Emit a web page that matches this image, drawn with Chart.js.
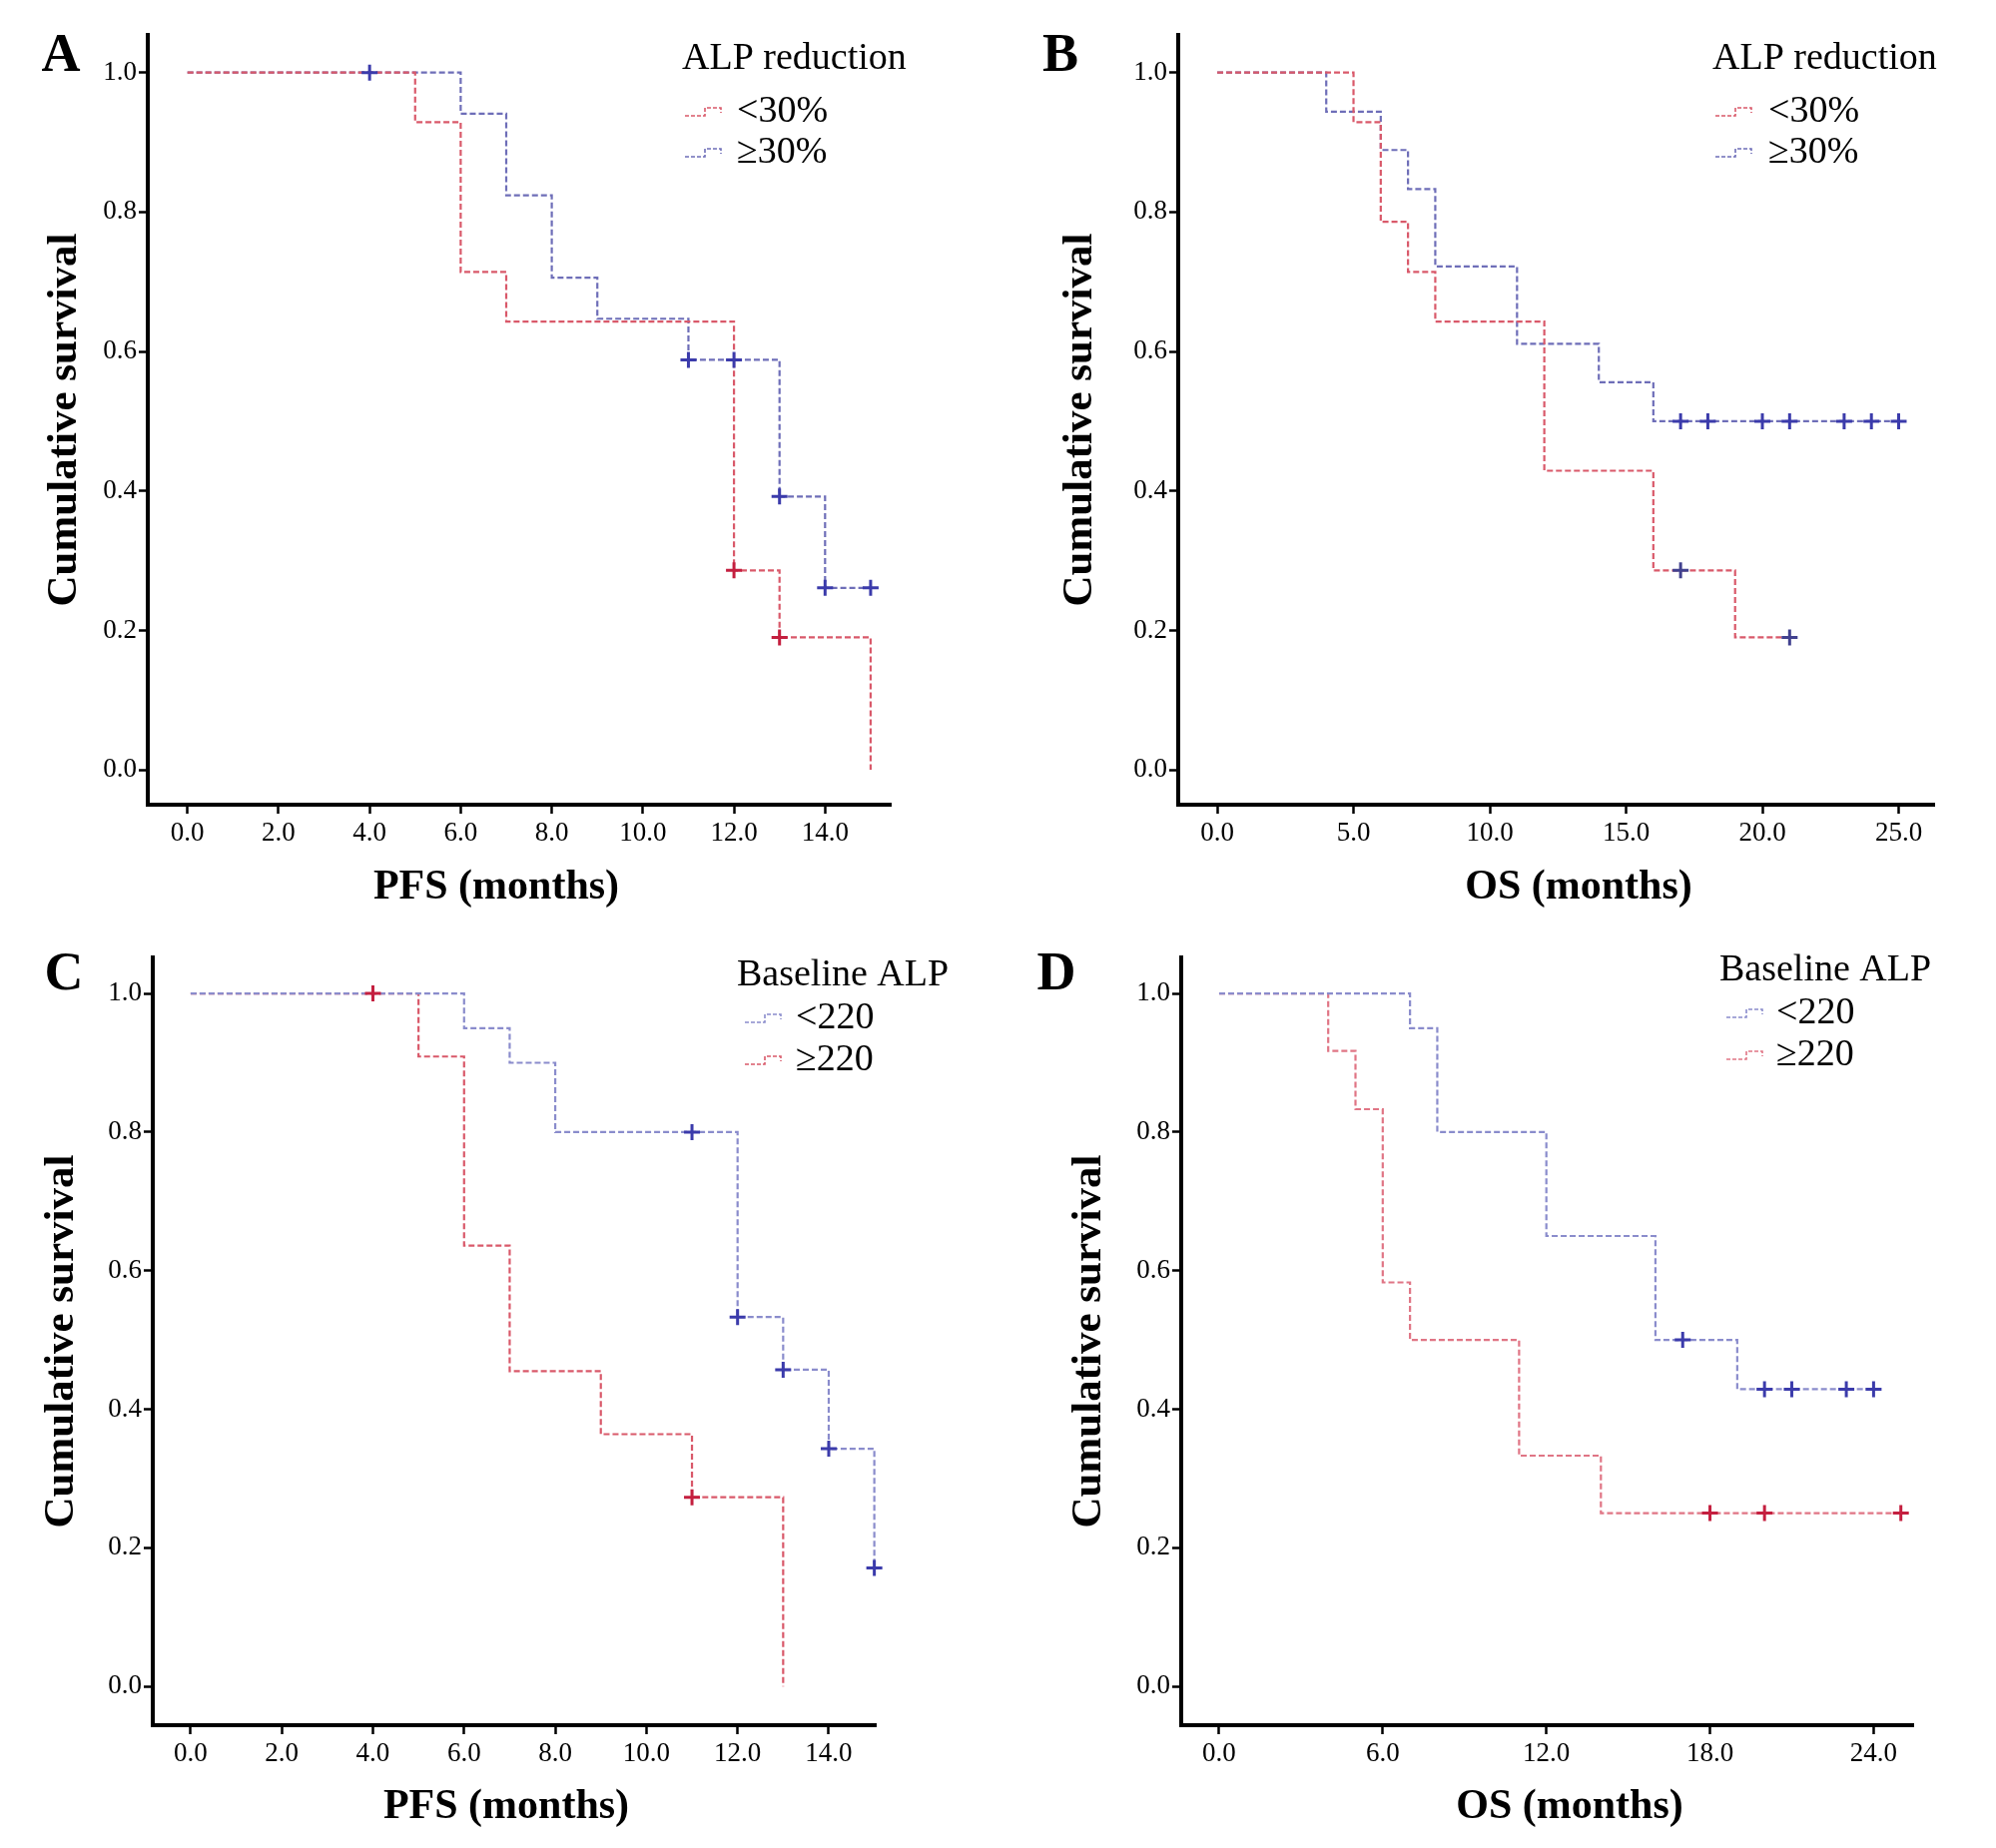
<!DOCTYPE html>
<html>
<head>
<meta charset="utf-8">
<title>Kaplan-Meier curves by ALP</title>
<script src="https://cdn.jsdelivr.net/npm/chart.js@4.4.1/dist/chart.umd.min.js"></script>
<style>
  html, body { margin: 0; padding: 0; background: #fff; }
  #wrap { position: relative; width: 1999px; height: 1851px; }
  canvas { position: absolute; }
</style>
</head>
<body>
<div id="wrap">
  <canvas id="chartA" width="1000" height="920" style="left:0;top:0"></canvas>
  <canvas id="chartB" width="999" height="920" style="left:1000px;top:0"></canvas>
  <canvas id="chartC" width="1000" height="931" style="left:0;top:920px"></canvas>
  <canvas id="chartD" width="999" height="931" style="left:1000px;top:920px"></canvas>
</div>
<script>
// tick labels
const yTicks = [0, 0.2, 0.4, 0.6, 0.8, 1.0];
const pfsTicks = [0, 2, 4, 6, 8, 10, 12, 14];
const osTicksB = [0, 5, 10, 15, 20, 25];
const osTicksD = [0, 6, 12, 18, 24];

// groups
const reductionGroups = ['<30%', '\u226530%'];
const baselineGroups = ['<220', '\u2265220'];

// A - PFS by ALP reduction
const aLowTime = [0, 5, 6, 7, 12, 13, 15];
const aLowSurv = [1, 0.929, 0.714, 0.643, 0.286, 0.190, 0];
const aLowCens = [12, 13];
const aHighTime = [0, 6, 7, 8, 9, 11, 13, 14, 15];
const aHighSurv = [1, 0.941, 0.824, 0.706, 0.647, 0.588, 0.392, 0.261, 0.261];
const aHighCens = [4, 11, 12, 13, 14, 15];

// B - OS by ALP reduction
const bLowTime = [0, 5, 6, 7, 8, 12, 16, 19, 21];
const bLowSurv = [1, 0.929, 0.786, 0.714, 0.643, 0.429, 0.286, 0.190, 0.190];
const bLowCens = [17, 21];
const bHighTime = [0, 4, 6, 7, 8, 11, 14, 16, 25];
const bHighSurv = [1, 0.944, 0.889, 0.833, 0.722, 0.611, 0.556, 0.5, 0.5];
const bHighCens = [17, 18, 20, 21, 23, 24, 25];

// C - PFS by baseline ALP
const cLowTime = [0, 6, 7, 8, 12, 13, 14, 15];
const cLowSurv = [1, 0.95, 0.90, 0.80, 0.533, 0.457, 0.343, 0.171];
const cLowCens = [11, 12, 13, 14, 15];
const cHighTime = [0, 5, 6, 7, 9, 11, 13];
const cHighSurv = [1, 0.909, 0.636, 0.455, 0.364, 0.273, 0];
const cHighCens = [4, 11];

// D - OS by baseline ALP
const dLowTime = [0, 7, 8, 12, 16, 19, 24];
const dLowSurv = [1, 0.95, 0.80, 0.65, 0.50, 0.429, 0.429];
const dLowCens = [17, 20, 21, 23, 24];
const dHighTime = [0, 4, 5, 6, 7, 11, 14, 25];
const dHighSurv = [1, 0.917, 0.833, 0.583, 0.50, 0.333, 0.25, 0.25];
const dHighCens = [18, 20, 25];

const SERIF = "'Liberation Serif', 'Times New Roman', serif";

// value of the step curve at time t
function survAt(times, surv, t) {
  let v = surv[0];
  for (let i = 0; i < times.length; i++) {
    if (times[i] <= t) v = surv[i];
  }
  return v;
}

// panel letter, x title and the little step legend
const kmDecor = {
  id: 'kmDecor',
  afterDraw(chart, args, o) {
    const ctx = chart.ctx;
    ctx.save();
    ctx.fillStyle = '#000';
    ctx.textBaseline = 'middle';
    ctx.textAlign = 'center';
    ctx.font = 'bold 54px ' + SERIF;
    ctx.fillText(o.letter, o.letterAt[0], o.letterAt[1]);
    ctx.font = 'bold 42px ' + SERIF;
    ctx.fillText(o.xTitle, o.xTitleAt[0], o.xTitleAt[1]);

    ctx.textAlign = 'left';
    ctx.font = '38px ' + SERIF;
    ctx.fillText(o.legendTitle, o.legendX, o.legendY);
    const lines = chart.data.datasets.filter(d => !d.censor);
    lines.forEach((d, i) => {
      const y = o.rows[i];
      const x0 = o.iconX;
      ctx.strokeStyle = d.borderColor;
      ctx.lineWidth = 1.6;
      ctx.setLineDash([4, 2]);
      ctx.beginPath();
      ctx.moveTo(x0, y + 4);
      ctx.lineTo(x0 + 20, y + 4);
      ctx.lineTo(x0 + 20, y - 4);
      ctx.lineTo(x0 + 36, y - 4);
      ctx.lineTo(x0 + 36, y + 1);
      ctx.stroke();
      ctx.setLineDash([]);
      ctx.fillText(d.label, o.textX, y);
    });
    ctx.restore();
  }
};

function kmChart(id, p) {
  const L = p.box;
  const sets = [];
  p.groups.forEach(g => {
    sets.push({
      label: g.label,
      data: g.time.map((t, k) => ({ x: t, y: g.surv[k] })),
      borderColor: g.line,
      borderWidth: 2.2,
      borderDash: [6, 3],
      stepped: 'before',
      pointRadius: 0,
      fill: false,
      order: 2
    });
  });
  p.groups.forEach(g => {
    sets.push({
      label: g.label + ' censored',
      censor: true,
      data: g.cens.map(t => ({ x: t, y: survAt(g.time, g.surv, t) })),
      showLine: false,
      pointStyle: 'cross',
      pointRadius: 8,
      pointBorderWidth: 3,
      pointBorderColor: g.mark,
      borderColor: g.mark,
      clip: false,
      order: 1
    });
  });

  const tickFont = { family: SERIF, size: 27 };
  const grid = { display: true, drawOnChartArea: false, drawTicks: true, tickLength: 9, tickWidth: 2.5, tickColor: '#000' };
  const border = { display: true, width: 4, color: '#000' };

  return new Chart(document.getElementById(id), {
    type: 'line',
    data: { datasets: sets },
    options: {
      responsive: false,
      animation: false,
      events: [],
      devicePixelRatio: 1,
      layout: { padding: { left: 0, top: L.top, right: L.w - L.right, bottom: 0 } },
      plugins: {
        legend: { display: false },
        tooltip: { enabled: false },
        kmDecor: p.decor
      },
      scales: {
        x: {
          type: 'linear',
          min: p.xMin,
          max: p.xMax,
          afterBuildTicks: s => { s.ticks = p.xTicks.map(v => ({ value: v })); },
          afterFit: s => { s.height = L.h - L.bottom; },
          grid: grid,
          border: border,
          ticks: { callback: v => Number(v).toFixed(1), font: tickFont, color: '#000', padding: 4, maxRotation: 0, autoSkip: false }
        },
        y: {
          min: p.yMin,
          max: p.yMax,
          afterBuildTicks: s => { s.ticks = yTicks.map(v => ({ value: v })); },
          afterFit: s => { s.width = L.left; },
          grid: grid,
          border: border,
          ticks: { callback: v => Number(v).toFixed(1), font: tickFont, color: '#000', padding: 2 },
          title: {
            display: true,
            text: 'Cumulative survival',
            color: '#000',
            font: { family: SERIF, size: 43, weight: 'bold' },
            padding: { top: p.yTitlePad, bottom: 0 }
          }
        }
      }
    },
    plugins: [kmDecor]
  });
}

const RED = '#d9596a', BLUE = '#6e6eb8', RED_MARK = '#c41f3f', BLUE_MARK = '#3b3bab';

kmChart('chartA', {
  box: { w: 1000, h: 920, left: 148, right: 892, top: 35, bottom: 806 },
  xMin: -0.87, xMax: 15.44, yMin: -0.05, yMax: 1.054, xTicks: pfsTicks, yTitlePad: 39,
  groups: [
    { label: reductionGroups[0], time: aLowTime, surv: aLowSurv, cens: aLowCens, line: RED, mark: RED_MARK },
    { label: reductionGroups[1], time: aHighTime, surv: aHighSurv, cens: aHighCens, line: BLUE, mark: BLUE_MARK }
  ],
  decor: { letter: 'A', letterAt: [61, 57], xTitle: 'PFS (months)', xTitleAt: [497, 889],
    legendTitle: 'ALP reduction', legendX: 683, legendY: 59, iconX: 686, textX: 738, rows: [112, 153] }
});

kmChart('chartB', {
  box: { w: 999, h: 920, left: 180, right: 937, top: 35, bottom: 806 },
  xMin: -1.43, xMax: 26.3, yMin: -0.05, yMax: 1.054, xTicks: osTicksB, yTitlePad: 56,
  groups: [
    { label: reductionGroups[0], time: bLowTime, surv: bLowSurv, cens: bLowCens, line: RED, mark: '#41418f' },
    { label: reductionGroups[1], time: bHighTime, surv: bHighSurv, cens: bHighCens, line: BLUE, mark: BLUE_MARK }
  ],
  decor: { letter: 'B', letterAt: [62, 57], xTitle: 'OS (months)', xTitleAt: [581, 889],
    legendTitle: 'ALP reduction', legendX: 715, legendY: 59, iconX: 718, textX: 771, rows: [112, 153] }
});

kmChart('chartC', {
  box: { w: 1000, h: 931, left: 153, right: 877, top: 39, bottom: 808 },
  xMin: -0.83, xMax: 15.03, yMin: -0.056, yMax: 1.052, xTicks: pfsTicks, yTitlePad: 36,
  groups: [
    { label: baselineGroups[0], time: cLowTime, surv: cLowSurv, cens: cLowCens, line: '#8a8ccc', mark: BLUE_MARK },
    { label: baselineGroups[1], time: cHighTime, surv: cHighSurv, cens: cHighCens, line: RED, mark: RED_MARK }
  ],
  decor: { letter: 'C', letterAt: [64, 57], xTitle: 'PFS (months)', xTitleAt: [507, 890],
    legendTitle: 'Baseline ALP', legendX: 738, legendY: 57, iconX: 746, textX: 797, rows: [100, 142] }
});

kmChart('chartD', {
  box: { w: 999, h: 931, left: 183, right: 916, top: 39, bottom: 808 },
  xMin: -1.39, xMax: 25.45, yMin: -0.056, yMax: 1.052, xTicks: osTicksD, yTitlePad: 65,
  groups: [
    { label: baselineGroups[0], time: dLowTime, surv: dLowSurv, cens: dLowCens, line: '#8a8ccc', mark: BLUE_MARK },
    { label: baselineGroups[1], time: dHighTime, surv: dHighSurv, cens: dHighCens, line: '#e07585', mark: RED_MARK }
  ],
  decor: { letter: 'D', letterAt: [58, 57], xTitle: 'OS (months)', xTitleAt: [572, 890],
    legendTitle: 'Baseline ALP', legendX: 722, legendY: 52, iconX: 729, textX: 779, rows: [95, 137] }
});
</script>
</body>
</html>
